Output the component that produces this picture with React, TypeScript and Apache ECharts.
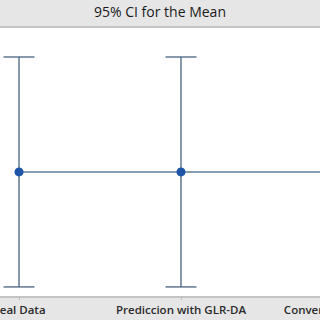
import React, { useEffect, useRef } from "react";
import * as echarts from "echarts";

// Groups compared and their 95% confidence intervals for the mean
const categories = ["Real Data", "Prediccion with GLR-DA", "Conventional GLR-DA"];
const means = [50, 50, 50];
const lowerCI = [38, 38, 38];
const upperCI = [62, 62, 62];

// The chart canvas is wider than the visible frame; the frame shows a window onto it.
const FRAME = 320;
const CANVAS_W = 486;
const OFFSET_X = -62;

export default function App() {
  const ref = useRef<HTMLDivElement>(null);

  useEffect(() => {
    if (!ref.current) return;
    const chart = echarts.init(ref.current, undefined, { renderer: "svg" });

    const intervals = categories.map((_, i) => [i, lowerCI[i], upperCI[i]]);

    chart.setOption({
      animation: false,
      backgroundColor: "#e6e6e6",
      graphic: [
        {
          type: "text",
          x: FRAME / 2 - OFFSET_X,
          y: 4,
          style: {
            text: "95% CI for the Mean",
            align: "center",
            verticalAlign: "top",
            fontFamily: "Open Sans",
            fontSize: 14,
            fill: "#1a1a1a",
          },
        },
      ],
      grid: {
        left: 0,
        right: 0,
        top: 27,
        bottom: 23,
        show: true,
        backgroundColor: "#ffffff",
        borderColor: "#c4c4c4",
        borderWidth: 2,
      },
      xAxis: {
        type: "category",
        data: categories,
        boundaryGap: true,
        axisLine: { show: true, lineStyle: { color: "#c4c4c4", width: 2 } },
        axisTick: { show: true, alignWithLabel: true, length: 3, lineStyle: { color: "#bbbbbb" } },
        axisLabel: {
          interval: 0,
          margin: 6,
          fontFamily: "Open Sans",
          fontSize: 11.5,
          fontWeight: 600,
          color: "#2a2a2a",
        },
      },
      yAxis: {
        type: "value",
        min: 36.95,
        max: 65.13,
        show: false,
        splitLine: { show: false },
      },
      series: [
        {
          type: "custom",
          data: intervals,
          encode: { x: 0, y: [1, 2] },
          renderItem: (params: any, api: any) => {
            const x = api.value(0);
            const lo = api.coord([x, api.value(1)]);
            const hi = api.coord([x, api.value(2)]);
            const half = 15.5;
            const style = { stroke: "#46617f", lineWidth: 1.3 };
            return {
              type: "group",
              children: [
                { type: "line", shape: { x1: lo[0], y1: lo[1], x2: hi[0], y2: hi[1] }, style },
                { type: "line", shape: { x1: hi[0] - half, y1: hi[1], x2: hi[0] + half, y2: hi[1] }, style },
                { type: "line", shape: { x1: lo[0] - half, y1: lo[1], x2: lo[0] + half, y2: lo[1] }, style },
              ],
            };
          },
          z: 2,
        },
        {
          type: "line",
          data: means,
          symbol: "circle",
          symbolSize: 9,
          itemStyle: { color: "#1d56a8" },
          lineStyle: { color: "#5f7d99", width: 1.6 },
          z: 3,
        },
      ],
    });

    return () => chart.dispose();
  }, []);

  return (
    <div
      style={{
        position: "absolute",
        left: 0,
        top: 0,
        width: FRAME,
        height: FRAME,
        overflow: "hidden",
        background: "#e6e6e6",
      }}
    >
      <div
        ref={ref}
        style={{ position: "absolute", left: OFFSET_X, top: 0, width: CANVAS_W, height: FRAME }}
      />
    </div>
  );
}
